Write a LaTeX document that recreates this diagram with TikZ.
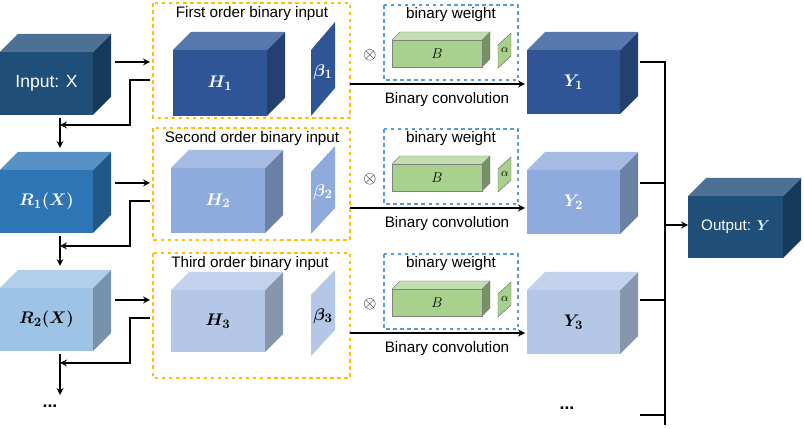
\documentclass[tikz,border=0pt]{standalone}
\usepackage{amsmath,amssymb}
\usepackage{bm}
\usepackage{fontspec}
\setmainfont{Liberation Sans}
\usepackage{tikz}
\usetikzlibrary{positioning}

\definecolor{inblue}{HTML}{1F4E79}
\definecolor{hone}{HTML}{2F5597}
\definecolor{rone}{HTML}{2E75B6}
\definecolor{htwo}{HTML}{8FAADC}
\definecolor{hthree}{HTML}{B4C7E7}
\definecolor{rtwo}{HTML}{9DC3E6}
\definecolor{wgreen}{HTML}{A9D18E}
\definecolor{ybox}{HTML}{FFC000}
\definecolor{bbox}{HTML}{5B9BD5}

\tikzset{
  arr/.style={->, >=stealth, line width=1.6pt},
  ln/.style={line width=1.6pt},
  ordbox/.style={draw=ybox, dashed, line width=1.2pt},
  wbox/.style={draw=bbox, dashed, line width=1.2pt},
  txt/.style={font=\fontsize{13}{15}\selectfont, inner sep=1pt},
  big/.style={font=\fontsize{15}{17}\selectfont},
}

% cube: x, y (top-left of front), w, h, depth, colour, name, label
\newcommand{\cube}[8]{%
  \fill[#6!75!black] (#1+#3,#2) -- ++(#5,-#5) -- ++(0,#4) -- ++(-#5,#5) -- cycle;
  \fill[#6!80!white] (#1,#2) -- ++(#5,-#5) -- ++(#3,0) -- ++(-#5,#5) -- cycle;
  \fill[#6] (#1,#2) rectangle ++(#3,#4);
  \node[txt, big, text=white] (#7) at (#1+#3/2,#2+#4/2) {#8};
}

\begin{document}
\begin{tikzpicture}[x=0.03cm, y=-0.03cm]
  \useasboundingbox (0,0) rectangle (804,429);

  % left column
  \cube{0}{52}{93}{63}{18}{inblue}{inp}{Input: X}
  \cube{0}{170}{93}{63}{18}{rone}{rone}{$\bm{R_1(X)}$}
  \cube{0}{288}{93}{63}{18}{rtwo}{rtwo}{}
  \node[txt, big] at (rtwo) {$\bm{R_2(X)}$};
  \node[txt, big] (dotsl) at (50,406) {\textbf{...}};

  % binary inputs
  \draw[ordbox] (153,3) rectangle (350,118);
  \draw[ordbox] (153,128) rectangle (350,240);
  \draw[ordbox] (153,253) rectangle (350,378);
  \node[txt, anchor=north] (ord1) at (252,5) {First order binary input};
  \node[txt, anchor=north] (ord2) at (252,130) {Second order binary input};
  \node[txt, anchor=north] (ord3) at (250,255) {Third order binary input};
  \cube{173}{50}{94}{66}{18}{hone}{hh1}{$\bm{H_1}$}
  \cube{171}{168}{94}{65}{18}{htwo}{hh2}{$\bm{H_2}$}
  \cube{171}{290}{94}{62}{18}{hthree}{hh3}{}
  \node[txt, big] at (hh3) {$\bm{H_3}$};
  \fill[hone] (311,50) -- (335,22) -- (335,88) -- (311,116) -- cycle;
  \node[txt, big, text=white] (bt1) at (323,72) {$\bm{\beta_1}$};
  \fill[htwo] (311,172) -- (335,146) -- (335,208) -- (311,234) -- cycle;
  \node[txt, big, text=white] (bt2) at (323,192) {$\bm{\beta_2}$};
  \fill[hthree] (311,295) -- (335,270) -- (335,330) -- (311,356) -- cycle;
  \node[txt, big] (bt3) at (323,316) {$\bm{\beta_3}$};

  % binary weights, convolutions, outputs
  \foreach \r/\yo/\yy/\cc in {1/0/50/hone, 2/124/170/htwo, 3/249/290/hthree} {
    \draw[wbox] (384,5+\yo) rectangle (518,80+\yo);
    \node[txt, anchor=north] (bw\r) at (451,6+\yo) {binary weight};
    \node[txt, big] (ot\r) at (370,55+\yo) {$\otimes$};
    \fill[wgreen!70!black] (482,40+\yo) -- ++(8,-8) -- ++(0,27) -- ++(-8,8) -- cycle;
    \fill[wgreen!70!white] (392,40+\yo) -- ++(8,-8) -- ++(90,0) -- ++(-8,8) -- cycle;
    \draw[black!50, fill=wgreen] (392,40+\yo) rectangle (482,67+\yo);
    \draw[black!50] (482,40+\yo) -- ++(8,-8) -- ++(0,27) -- ++(-8,8)
      (392,40+\yo) -- ++(8,-8) -- ++(90,0);
    \node[txt] (bb\r) at (437,54+\yo) {$B$};
    \draw[black!60, fill=wgreen] (498,45+\yo) -- (511,33+\yo) -- (511,56+\yo) -- (498,68+\yo) -- cycle;
    \node[txt, font=\fontsize{10}{11}\selectfont] (al\r) at (505,50+\yo) {$\alpha$};
    \coordinate (cs\r) at (350,84+\yo);
    \coordinate (ce\r) at (525,84+\yo);
    \draw[arr] (cs\r) -- (ce\r);
    \node[txt, anchor=north] (bc\r) at (447,91+\yo) {Binary convolution};
    \cube{527}{\yy}{93}{64}{18}{\cc}{yy\r}{}
  }
  \node[txt, big, text=white] at (yy1) {$\bm{Y_1}$};
  \node[txt, big, text=white] at (yy2) {$\bm{Y_2}$};
  \node[txt, big] at (yy3) {$\bm{Y_3}$};
  \node[txt, big] (dotsr) at (567,408) {\textbf{...}};

  % merge bus and output
  \cube{688}{196}{95}{62}{18}{inblue}{outp}{}
  \node[txt, text=white] at (outp) {Output: $\bm{Y}$};
  \coordinate (b1) at (665,62);
  \coordinate (b2) at (665,183);
  \coordinate (b3) at (665,300);
  \coordinate (b4) at (665,415);
  \coordinate (bt) at (665,425);
  \coordinate (bm) at (665,225);
  \draw[ln] (640,62) -- (b1) -- (bt);
  \draw[ln] (640,183) -- (b2);
  \draw[ln] (640,300) -- (b3);
  \draw[ln] (640,415) -- (b4);
  \draw[arr] (bm) -- (688,225);

  % residual arrows on the left
  \foreach \yo/\yt in {0/62, 121/183, 238/300} {
    \draw[arr] (115,\yt) -- (150,\yt);
    \draw[arr] (150,\yt+18) -- (130,\yt+18) -- (130,\yt+63) -- (60,\yt+63);
  }
  \draw[arr] (60,118) -- (60,148);
  \draw[arr] (60,236) -- (60,266);
  \draw[arr] (60,354) -- (60,395);
\end{tikzpicture}
\end{document}
